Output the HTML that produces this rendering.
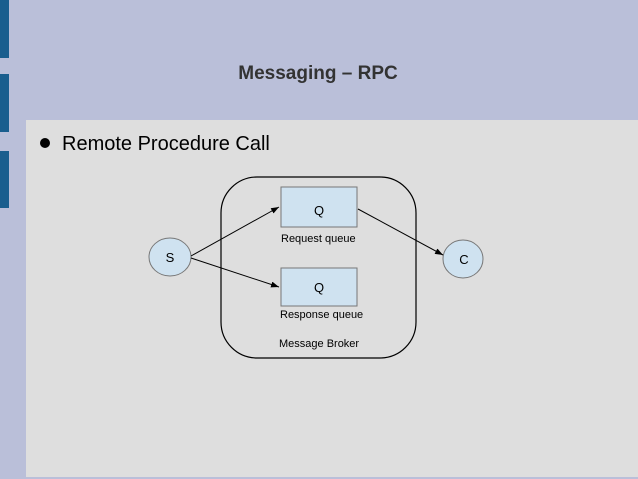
<!DOCTYPE html>
<html><head><style>
body{margin:0;width:638px;height:479px;background:#babfd9;position:relative;overflow:hidden;font-family:"Liberation Sans",sans-serif}
.bar{position:absolute;left:0;width:9px;background:#1a5e8e}
</style></head><body>
<div class="bar" style="top:0;height:58px"></div>
<div class="bar" style="top:74px;height:58px"></div>
<div class="bar" style="top:151px;height:57px"></div>
<div style="position:absolute;left:0;top:63px;width:636px;text-align:center;font-size:19px;font-weight:bold;color:#333;">Messaging – RPC</div>
<div style="position:absolute;left:26px;top:120px;width:612px;height:357px;background:#dedede"></div>
<div style="position:absolute;left:40px;top:138px;width:10px;height:10px;border-radius:50%;background:#000"></div>
<div style="position:absolute;left:62px;top:133px;font-size:20px;color:#000">Remote Procedure Call</div>
<svg style="position:absolute;left:0;top:0" width="638" height="479">
<defs><marker id="a" markerWidth="8" markerHeight="6" refX="8" refY="3" orient="auto"><path d="M0,0L8,3L0,6z" fill="#000"/></marker></defs>
<rect x="221" y="177" width="195" height="181" rx="36" fill="none" stroke="#000" stroke-width="1.2"/>
<rect x="281" y="187" width="76" height="40" fill="#cfe2f0" stroke="#777"/>
<rect x="281" y="268" width="76" height="38" fill="#cfe2f0" stroke="#777"/>
<ellipse cx="170" cy="257" rx="21" ry="19" fill="#cfe2f0" stroke="#777"/>
<ellipse cx="463" cy="259" rx="20" ry="19" fill="#cfe2f0" stroke="#777"/>
<line x1="191" y1="256" x2="279" y2="207" stroke="#000" marker-end="url(#a)"/>
<line x1="191" y1="258" x2="279" y2="287" stroke="#000" marker-end="url(#a)"/>
<line x1="358" y1="209" x2="443" y2="255" stroke="#000" marker-end="url(#a)"/>
<g font-size="13" fill="#000" text-anchor="middle">
<text x="319" y="215">Q</text><text x="319" y="292">Q</text>
<text x="170" y="262">S</text><text x="464" y="264">C</text></g>
<g font-size="11" fill="#000">
<text x="281" y="242">Request queue</text>
<text x="280" y="318">Response queue</text>
<text x="279" y="347">Message Broker</text></g>
</svg>
</body></html>
